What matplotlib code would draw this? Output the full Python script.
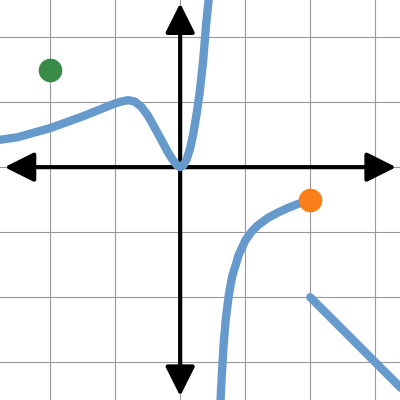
import numpy as np
import matplotlib.pyplot as plt

# curve pieces
x1 = [-2.77, -2.5, -2.0, -1.5, -1.2, -1.0, -0.9, -0.8, -0.7, -0.6, -0.5, -0.4, -0.3, -0.2, -0.12, -0.05,
      0.0, 0.05, 0.1, 0.15, 0.2, 0.25, 0.3, 0.35, 0.4, 0.44]
y1 = [0.42, 0.46, 0.6, 0.78, 0.9, 0.98, 1.01, 1.03, 1.01, 0.93, 0.8, 0.62, 0.44, 0.25, 0.12, 0.03,
      0.0, 0.03, 0.12, 0.28, 0.5, 0.8, 1.15, 1.6, 2.2, 2.6]
x2 = [0.62, 0.64, 0.67, 0.7, 0.75, 0.8, 0.9, 1.0, 1.1, 1.2, 1.35, 1.5, 1.65, 1.8, 2.0]
y2 = [-3.6, -3.2, -2.7, -2.35, -1.95, -1.68, -1.35, -1.13, -0.99, -0.89, -0.78, -0.7, -0.63, -0.57, -0.5]
x3 = [2.0, 3.4]
y3 = [-2.0, -3.4]
green_pt = (-2, 1.5)
orange_pt = (2, -0.5)

fig = plt.figure(figsize=(4, 4), dpi=100)
ax = fig.add_axes([0, 0, 1, 1])
ax.set_xlim(-2.77, 3.38)
ax.set_ylim(-3.58, 2.57)
for v in range(-2, 4):
    ax.axvline(v, color="#999999", lw=0.8, zorder=0)
for v in range(-3, 3):
    ax.axhline(v, color="#999999", lw=0.8, zorder=0)

arw = dict(arrowstyle="<|-|>,head_length=0.6,head_width=0.3", color="black", lw=3,
           mutation_scale=30, shrinkA=0, shrinkB=0)
ax.annotate("", xy=(-2.7, 0), xytext=(3.32, 0), arrowprops=arw)
ax.annotate("", xy=(0, 2.52), xytext=(0, -3.52), arrowprops=arw)

c = "#6699cc"
for xs, ys in [(x1, y1), (x2, y2), (x3, y3)]:
    ax.plot(xs, ys, color=c, lw=6, solid_capstyle="round", solid_joinstyle="round", zorder=3)
ax.plot(*green_pt, "o", color="#388c46", ms=16, zorder=4)
ax.plot(*orange_pt, "o", color="#fa7e19", ms=16, zorder=4)
ax.axis("off")
fig.savefig("out.png")
